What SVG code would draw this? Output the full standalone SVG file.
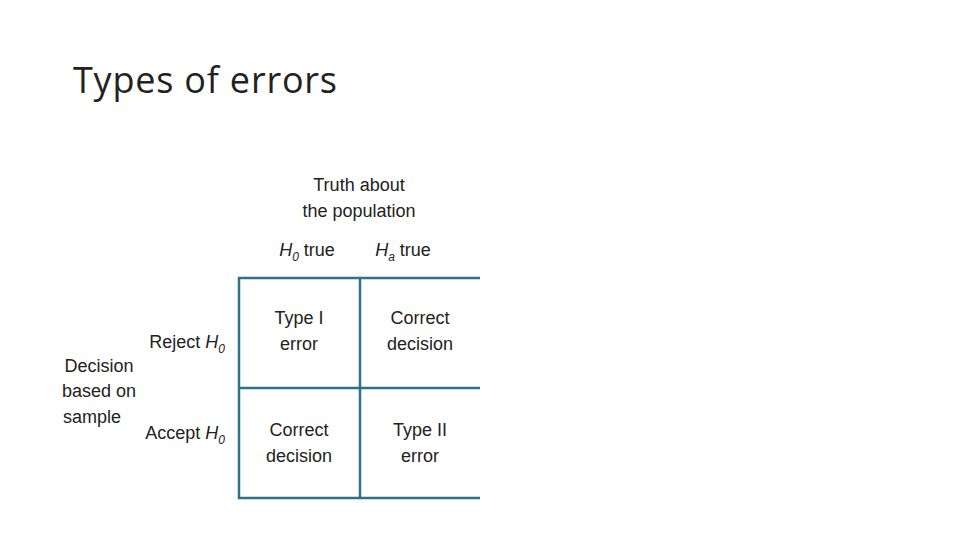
<svg xmlns="http://www.w3.org/2000/svg" width="960" height="540" viewBox="0 0 960 540">
<style>
.t{font-family:"Liberation Sans",Arial,sans-serif;font-size:18px;fill:#222;text-anchor:middle}
.g{stroke:#2f7189;stroke-width:2.5;fill:none}
</style>
<rect width="960" height="540" fill="#fff"/>
<text x="73" y="93" style="font-family:'Open Sans','Liberation Sans',sans-serif;font-size:36px;fill:#222" textLength="264">Types of errors</text>
<g id="header">
<text class="t" x="359" y="191">Truth about</text>
<text class="t" x="359" y="217">the population</text>
<text class="t" x="307" y="256"><tspan font-style="italic">H</tspan><tspan font-size="12" dy="5" font-style="italic">0</tspan><tspan dy="-5"> true</tspan></text>
<text class="t" x="403" y="256"><tspan font-style="italic">H</tspan><tspan font-size="12" dy="5" font-style="italic">a</tspan><tspan dy="-5"> true</tspan></text>
</g>
<g id="rows">
<text class="t" x="187" y="348"><tspan>Reject </tspan><tspan font-style="italic">H</tspan><tspan font-size="12" dy="5" font-style="italic">0</tspan></text>
<text class="t" x="185" y="439"><tspan>Accept </tspan><tspan font-style="italic">H</tspan><tspan font-size="12" dy="5" font-style="italic">0</tspan></text>
<text class="t" x="99" y="372">Decision</text>
<text class="t" x="99" y="397">based on</text>
<text class="t" x="92" y="423">sample</text>
</g>
<g id="grid">
<path class="g" d="M480 278H239V498H480M239 388H480M360 278V498"/>
</g>
<g id="cell11"><text class="t" x="299" y="324">Type I</text><text class="t" x="299" y="350">error</text></g>
<g id="cell12"><text class="t" x="420" y="324">Correct</text><text class="t" x="420" y="350">decision</text></g>
<g id="cell21"><text class="t" x="299" y="436">Correct</text><text class="t" x="299" y="462">decision</text></g>
<g id="cell22"><text class="t" x="420" y="436">Type II</text><text class="t" x="420" y="462">error</text></g>
<g id="connectors"/>
</svg>
